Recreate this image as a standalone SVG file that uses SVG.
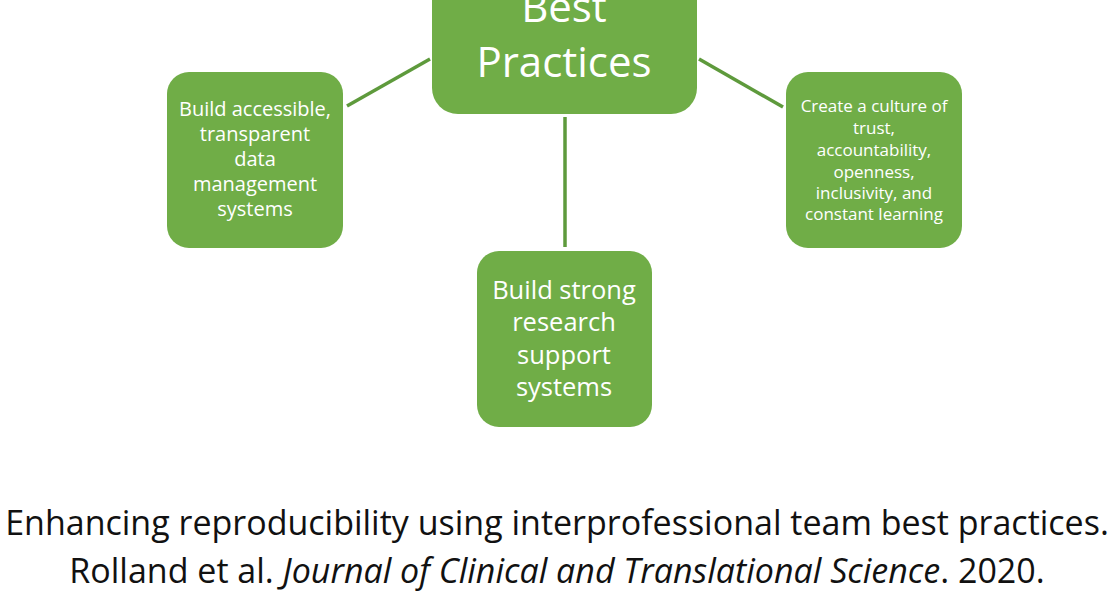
<svg xmlns="http://www.w3.org/2000/svg" width="1115" height="600" viewBox="0 0 1115 600">
<style>
.box{fill:#70ad47}
.t{font-family:"Open Sans","Liberation Sans",sans-serif;fill:#fff;text-anchor:middle}
.c{stroke:#5e9a3c;stroke-width:3.5;fill:none}
.cap{font-family:"Open Sans","Liberation Sans",sans-serif;fill:#111;text-anchor:middle;font-size:34px}
</style>
<rect width="1115" height="600" fill="#fff"/>
<g id="connectors">
<line class="c" x1="347" y1="106" x2="430" y2="59"/>
<line class="c" x1="699" y1="59" x2="783" y2="107"/>
<line class="c" x1="565" y1="117" x2="565" y2="247"/>
</g>
<g id="center">
<rect class="box" x="432" y="-30" width="265" height="144" rx="26"/>
<text class="t" font-size="42"><tspan x="564" y="22">Best</tspan><tspan x="564" y="77">Practices</tspan></text>
</g>
<g id="left">
<rect class="box" x="167" y="72" width="176" height="176" rx="22"/>
<text class="t" font-size="20"><tspan x="255" y="116">Build accessible,</tspan><tspan x="255" y="141">transparent</tspan><tspan x="255" y="166">data</tspan><tspan x="255" y="191">management</tspan><tspan x="255" y="216">systems</tspan></text>
</g>
<g id="right">
<rect class="box" x="786" y="72" width="176" height="176" rx="22"/>
<text class="t" font-size="17"><tspan x="874" y="112">Create a culture of</tspan><tspan x="874" y="134">trust,</tspan><tspan x="874" y="156">accountability,</tspan><tspan x="874" y="178">openness,</tspan><tspan x="874" y="199">inclusivity, and</tspan><tspan x="874" y="220">constant learning</tspan></text>
</g>
<g id="bottom">
<rect class="box" x="477" y="251" width="175" height="176" rx="22"/>
<text class="t" font-size="25.5"><tspan x="564" y="299">Build strong</tspan><tspan x="564" y="331">research</tspan><tspan x="564" y="364">support</tspan><tspan x="564" y="396">systems</tspan></text>
</g>
<text class="cap" x="557" y="535">Enhancing reproducibility using interprofessional team best practices.</text>
<text class="cap" x="557" y="583">Rolland et al. <tspan font-style="italic">Journal of Clinical and Translational Science</tspan>. 2020.</text>
</svg>
